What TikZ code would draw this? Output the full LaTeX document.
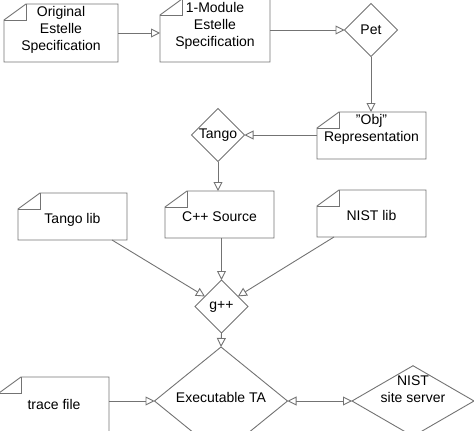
\documentclass[tikz,border=0pt]{standalone}
\usepackage{fontspec}
\setmainfont{Liberation Sans}
\usetikzlibrary{arrows.meta, shapes.geometric}
\tikzset{
  LINE/.style={% thin grey strokes
      draw=black!55,
      line width=0.9pt,
      >={Triangle[open, length=9pt, width=9pt]},
  },
  FLOW/.style={LINE, ->},
  DOC/.style={% box with a folded corner (outline drawn by \doc)
      rectangle,
      inner sep=0pt, outer sep=0pt,
      align=center,
      font=\fontsize{14}{17}\selectfont,
      minimum width=109pt,
      minimum height=47pt,
      text height=14pt,
      text depth=0pt,
  },
  DEC/.style={% tool diamonds
      diamond, LINE,
      inner sep=0pt, outer sep=0pt,
      align=center,
      font=\fontsize{14}{17}\selectfont,
      minimum width=53pt,
      minimum height=53pt,
  },
}
\def\doc(#1)#2[#3]#4{%
  \node[DOC, #3] (#2) at (#1) {#4}; % text of the document
  \draw[LINE] ([yshift=-16pt]#2.north west) -- (#2.south west) -- (#2.south east)
    -- (#2.north east) -- ([xshift=22pt]#2.north west) -- cycle; % outline, cut corner
  \draw[LINE] ([yshift=-16pt]#2.north west) -| ([xshift=22pt]#2.north west); % fold
}
\begin{document}
\begin{tikzpicture}[x=1pt, y=-1pt]
  \useasboundingbox (0,0) rectangle (474,431);
  % documents
  \doc(61,33){orig}[minimum width=114pt, minimum height=58pt, text height=44pt, text depth=9pt]{Original\\Estelle\\Specification}
  \doc(215,30.5){mod}[minimum width=110pt, minimum height=63pt, text height=44pt, text depth=13pt]{1-Module\\Estelle\\Specification}
  \doc(371.5,135.5){obj}[text height=27pt, text depth=15pt]{"Obj"\\Representation}
  \doc(219.5,214.5){cpp}[]{C++ Source}
  \doc(72.5,216.5){tlib}[]{Tango lib}
  \doc(371.5,213.5){nlib}[]{NIST lib}
  \doc(54,404.5){trace}[minimum width=110pt, minimum height=55pt, text height=10pt]{trace file}
  % tools
  \node[DEC] (pet) at (371,30) {Pet};
  \node[DEC] (tango) at (218,135) {Tango};
  \node[DEC] (gpp) at (221.5,306.5) {g++};
  \node[DEC, minimum width=133pt, minimum height=58pt, text height=10pt, text depth=8pt] (exe) at (221,401) {Executable TA};
  \node[DEC, minimum width=122pt, minimum height=58pt, text height=4pt, text depth=2pt] (nist) at (413,401) {NIST\\site server};
  % flow
  \draw[FLOW] (orig.east) -- (orig.east -| mod.west);
  \draw[FLOW] (mod.east |- pet) -- (pet.west);
  \draw[FLOW] (pet.south) -- (pet.south |- obj.north);
  \draw[FLOW] (obj.west |- tango) -- (tango.east);
  \draw[FLOW] (tango.south) -- (tango.south |- cpp.north);
  \draw[FLOW] (cpp.south -| gpp) -- (gpp.north);
  \draw[FLOW] ([xshift=-15pt]tlib.south east) -- (gpp);
  \draw[FLOW] ([xshift=17pt]nlib.south west) -- (gpp);
  \draw[FLOW] (gpp.south) -- (exe.north);
  \draw[FLOW] (trace.east |- exe) -- (exe.west);
  \draw[LINE, <->] (exe.east) -- (nist.west);
\end{tikzpicture}
\end{document}
